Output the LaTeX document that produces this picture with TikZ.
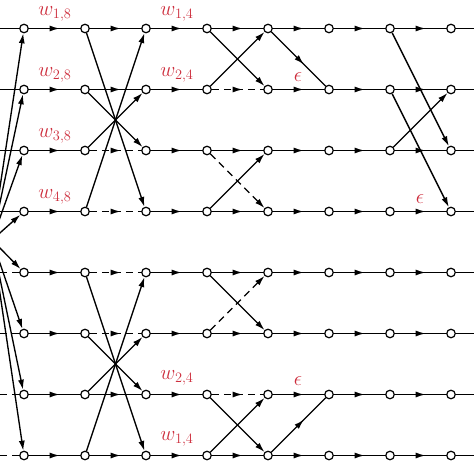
\documentclass[tikz,border=0pt]{standalone}
\usetikzlibrary{arrows.meta,decorations.markings}
\definecolor{lblred}{RGB}{205,45,60}
\begin{document}
\begin{tikzpicture}[x=1pt,y=-1pt,
  v/.style={circle,draw,fill=white,inner sep=0pt,minimum size=8.5pt,line width=1.2pt},
  e/.style={line width=1.35pt},
  dsh/.style={dash pattern=on 7pt off 5pt},
  midarr/.style={postaction={decorate},decoration={markings,mark=at position 0.6 with {\arrow{Latex[length=10pt,width=6pt]}}}},
  endarr/.style={-{Latex[length=10pt,width=6pt]}},
  lbl/.style={text=lblred,inner sep=0pt,font=\fontsize{21}{25}\selectfont}
]
\useasboundingbox (0,0) rectangle (474,474);
\clip (0,0) rectangle (474,474);
% nodes
\foreach \c/\x in {0/24,1/85,2/146,3/207,4/268,5/329,6/390,7/451}
  \foreach \r/\y in {1/28.5,2/89.5,3/150.5,4/211.5,5/272.5,6/333.5,7/394.5,8/455.5}
    \node[v] (n\c\r) at (\x,\y) {};
\foreach \r/\y in {1/28.5,2/89.5,3/150.5,4/211.5,5/272.5,6/333.5,7/394.5,8/455.5} {
  \coordinate (L\r) at (0,\y);
  \coordinate (R\r) at (474,\y);
}
\coordinate (S) at (-8,240);
% left and right ends
\foreach \r in {1,2,3,4} \draw[e] (L\r) -- (n0\r);
\foreach \r in {5,6,7,8} \draw[e,dsh] (L\r) -- (n0\r);
\foreach \r in {1,...,8} \draw[e] (n7\r) -- (R\r);
% fan from source
\foreach \r in {1,...,8} \draw[e,endarr] (S) -- (n0\r);
% horizontal segments
\foreach \a/\b in {0/1,2/3,4/5,5/6,6/7}
  \foreach \r in {1,...,8} \draw[e,midarr] (n\a\r) -- (n\b\r);
\foreach \r in {1,2,7,8} \draw[e,midarr] (n1\r) -- (n2\r);
\foreach \r in {3,4,5,6} \draw[e,dsh,midarr] (n1\r) -- (n2\r);
\foreach \r in {1,3,4,5,6,8} \draw[e,midarr] (n3\r) -- (n4\r);
\foreach \r in {2,7} \draw[e,dsh,midarr] (n3\r) -- (n4\r);
% crossings, stage 1-2
\foreach \p/\q in {1/4,4/1,2/3,3/2,5/8,8/5,6/7,7/6}
  \draw[e,endarr] (n1\p) -- (n2\q);
% crossings, stage 3-4
\foreach \p/\q in {1/2,2/1,4/3,5/6,7/8,8/7}
  \draw[e,endarr] (n3\p) -- (n4\q);
\draw[e,dsh,endarr] (n33) -- (n44);
\draw[e,dsh,endarr] (n36) -- (n45);
% stage 4-5
\draw[e,midarr] (n41) -- (n52);
\draw[e,midarr] (n48) -- (n57);
% stage 6-7
\foreach \p/\q in {1/3,2/4,3/2}
  \draw[e,endarr] (n6\p) -- (n7\q);
% labels
\node[lbl] (w18) at (55,14) {$w_{1,8}$};
\node[lbl] (w28) at (55,75) {$w_{2,8}$};
\node[lbl] (w38) at (55,136) {$w_{3,8}$};
\node[lbl] (w48) at (55,197) {$w_{4,8}$};
\node[lbl] (w14a) at (177,14) {$w_{1,4}$};
\node[lbl] (w24a) at (177,75) {$w_{2,4}$};
\node[lbl] (w24b) at (177,378) {$w_{2,4}$};
\node[lbl] (w14b) at (177,439) {$w_{1,4}$};
\node[lbl] (ep1) at (298,77) {$\epsilon$};
\node[lbl] (ep2) at (420,199) {$\epsilon$};
\node[lbl] (ep3) at (298,381) {$\epsilon$};
\end{tikzpicture}
\end{document}
